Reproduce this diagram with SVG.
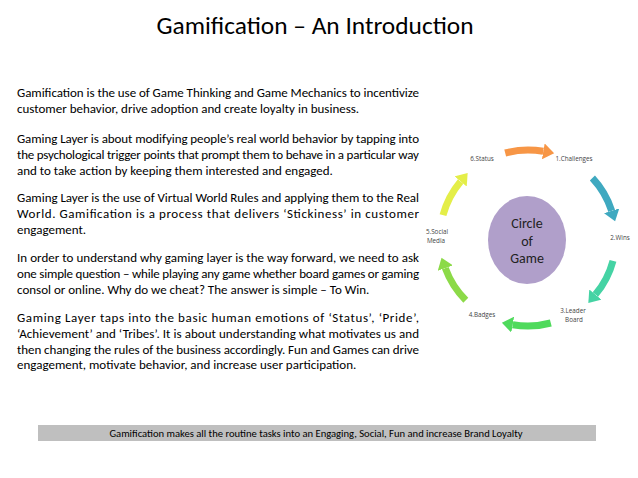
<svg xmlns="http://www.w3.org/2000/svg" width="638" height="478" viewBox="0 0 638 478">
<style>
.b{font-family:Carlito,"Open Sans","Liberation Sans",sans-serif;font-size:13px;fill:#000}
.l{font-family:"Open Sans","Liberation Sans",sans-serif;font-size:6.3px;fill:#444;text-anchor:middle}
.a{fill:none;stroke-width:7}
</style>
<defs>
<marker id="m1" markerUnits="userSpaceOnUse" markerWidth="14" markerHeight="16" refX="0" refY="8" orient="auto" viewBox="0 0 14 16"><path d="M0,0 L11,8 L0,16z" fill="#F79646"/></marker>
<marker id="m2" markerUnits="userSpaceOnUse" markerWidth="14" markerHeight="16" refX="0" refY="8" orient="auto" viewBox="0 0 14 16"><path d="M0,0 L11,8 L0,16z" fill="#3FA9C0"/></marker>
<marker id="m3" markerUnits="userSpaceOnUse" markerWidth="14" markerHeight="16" refX="0" refY="8" orient="auto" viewBox="0 0 14 16"><path d="M0,0 L11,8 L0,16z" fill="#45D3A4"/></marker>
<marker id="m4" markerUnits="userSpaceOnUse" markerWidth="14" markerHeight="16" refX="0" refY="8" orient="auto" viewBox="0 0 14 16"><path d="M0,0 L11,8 L0,16z" fill="#4FDA5C"/></marker>
<marker id="m5" markerUnits="userSpaceOnUse" markerWidth="14" markerHeight="16" refX="0" refY="8" orient="auto" viewBox="0 0 14 16"><path d="M0,0 L11,8 L0,16z" fill="#8CDA48"/></marker>
<marker id="m6" markerUnits="userSpaceOnUse" markerWidth="14" markerHeight="16" refX="0" refY="8" orient="auto" viewBox="0 0 14 16"><path d="M0,0 L11,8 L0,16z" fill="#E4EE48"/></marker>
</defs>
<rect width="638" height="478" fill="#fff"/>
<text x="315" y="34" text-anchor="middle" font-family="Carlito,'Open Sans','Liberation Sans',sans-serif" font-size="25.4">Gamification – An Introduction</text>
<g id="body">
<text class="b" x="17" y="97" textLength="402" lengthAdjust="spacing">Gamification is the use of Game Thinking and Game Mechanics to incentivize</text>
<text class="b" x="17" y="113">customer behavior, drive adoption and create loyalty in business.</text>
<text class="b" x="17" y="143" textLength="402" lengthAdjust="spacing">Gaming Layer is about modifying people’s real world behavior by tapping into</text>
<text class="b" x="17" y="159" textLength="402" lengthAdjust="spacing">the psychological trigger points that prompt them to behave in a particular way</text>
<text class="b" x="17" y="175">and to take action by keeping them interested and engaged.</text>
<text class="b" x="17" y="202" textLength="402" lengthAdjust="spacing">Gaming Layer is the use of Virtual World Rules and applying them to the Real</text>
<text class="b" x="17" y="218" textLength="402" lengthAdjust="spacing">World. Gamification is a process that delivers ‘Stickiness’ in customer</text>
<text class="b" x="17" y="234">engagement.</text>
<text class="b" x="17" y="262" textLength="402" lengthAdjust="spacing">In order to understand why gaming layer is the way forward, we need to ask</text>
<text class="b" x="17" y="278" textLength="402" lengthAdjust="spacing">one simple question – while playing any game whether board games or gaming</text>
<text class="b" x="17" y="294">consol or online. Why do we cheat? The answer is simple – To Win.</text>
<text class="b" x="17" y="322" textLength="402" lengthAdjust="spacing">Gaming Layer taps into the basic human emotions of ‘Status’, ‘Pride’,</text>
<text class="b" x="17" y="338" textLength="402" lengthAdjust="spacing">‘Achievement’ and ‘Tribes’. It is about understanding what motivates us and</text>
<text class="b" x="17" y="354" textLength="402" lengthAdjust="spacing">then changing the rules of the business accordingly.  Fun and Games can drive</text>
<text class="b" x="17" y="369">engagement, motivate behavior, and increase user participation.</text>
</g>
<g id="connectors">
<path class="a" stroke="#F79646" marker-end="url(#m1)" d="M505.2,153 A88,88 0 0 1 543.3,151.3"/>
<path class="a" stroke="#3FA9C0" marker-end="url(#m2)" d="M592.4,178 A88,88 0 0 1 611.7,210.8"/>
<path class="a" stroke="#45D3A4" marker-end="url(#m3)" d="M613,260.8 A88,88 0 0 1 595.4,294.6"/>
<path class="a" stroke="#4FDA5C" marker-end="url(#m4)" d="M550.8,323 A88,88 0 0 1 512.7,324.7"/>
<path class="a" stroke="#8CDA48" marker-end="url(#m5)" d="M465.8,300.2 A88,88 0 0 1 445.3,268.1"/>
<path class="a" stroke="#E4EE48" marker-end="url(#m6)" d="M443,215.2 A88,88 0 0 1 460.6,181.4"/>
</g>
<g id="center">
<ellipse cx="527" cy="240" rx="39" ry="44" fill="#B09FCA"/>
<g font-family="Carlito,'Open Sans','Liberation Sans',sans-serif" font-size="14" text-anchor="middle" fill="#222">
<text x="527" y="228">Circle</text><text x="527" y="246">of</text><text x="527" y="263">Game</text></g>
</g>
<g id="labels">
<text class="l" x="482" y="161">6.Status</text>
<text class="l" x="574" y="161">1.Challenges</text>
<text class="l" x="620" y="240">2.Wins</text>
<text class="l" x="573" y="313">3.Leader</text><text class="l" x="574" y="322">Board</text>
<text class="l" x="482" y="317">4.Badges</text>
<text class="l" x="437" y="234">5.Social</text><text class="l" x="436" y="243">Media</text>
</g>
<g id="footer">
<rect x="38" y="425" width="558" height="16" fill="#BFBFBF"/>
<text x="316" y="437" text-anchor="middle" font-family="Carlito,'Open Sans','Liberation Sans',sans-serif" font-size="10.6">Gamification makes all the routine tasks into an Engaging, Social, Fun and increase Brand Loyalty</text>
</g>
</svg>
